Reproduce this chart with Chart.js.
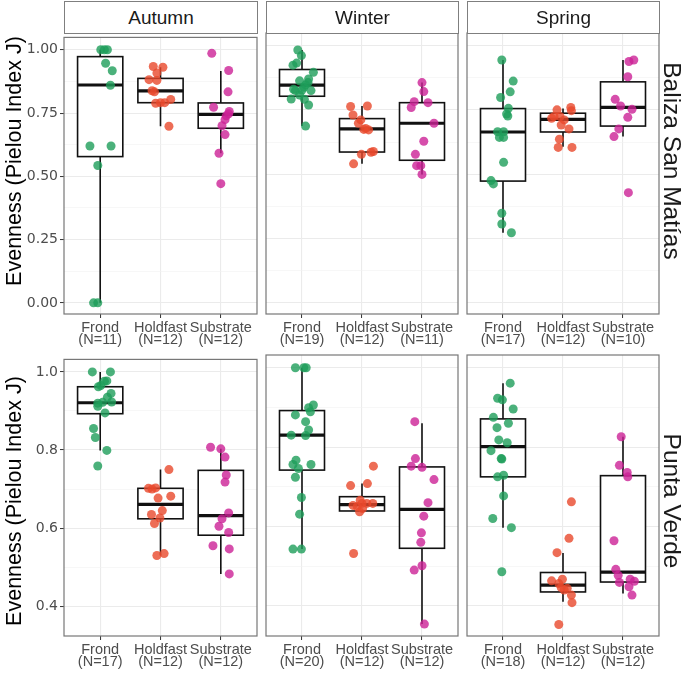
<!DOCTYPE html>
<html>
  <head>
    <meta charset="utf-8" />
    <title>Evenness by season and site</title>
    <script src="https://cdn.jsdelivr.net/npm/chart.js"></script>
    <style>
      body {
        margin: 0;
        background: #fff;
        font-family: "Liberation Sans", Arial, sans-serif;
      }
      #wrap {
        position: relative;
        width: 685px;
        height: 673px;
        overflow: hidden;
      }
      canvas {
        position: absolute;
      }
      .strip {
        position: absolute;
        box-sizing: border-box;
        border: 1px solid #7f7f7f;
        background: #fff;
        color: #1a1a1a;
        font-size: 19px;
        text-align: center;
        line-height: 31px;
      }
      .side {
        position: absolute;
        color: #1a1a1a;
        font-size: 24.5px;
        white-space: nowrap;
        transform: translate(-50%, -50%) rotate(90deg);
      }
      .ytitle {
        position: absolute;
        color: #000;
        font-size: 21.5px;
        white-space: nowrap;
        transform: translate(-50%, -50%) rotate(-90deg);
      }
    </style>
  </head>
  <body>
    <div id="wrap"></div>

    <script>
      const categories = ["Frond", "Holdfast", "Substrate"];
      const seasons = ["Autumn", "Winter", "Spring"];
      const sites = ["Baliza San Matías", "Punta Verde"];

      const topTicks = [0, 0.25, 0.5, 0.75, 1];
      const topMinor = [0.125, 0.375, 0.625, 0.875];
      const bottomTicks = [0.4, 0.6, 0.8, 1.0];
      const bottomMinor = [0.5, 0.7, 0.9];

      // points: [jitter, evenness] per category (Frond, Holdfast, Substrate)
      // boxes: [lower whisker, Q1, median, Q3, upper whisker]
      const bsmAutumnN = [11, 12, 12];
      const bsmAutumn = [
        [[0.01, 1.0], [0.07, 1.0], [0.12, 1.0], [0.09, 0.947], [0.2, 0.917], [0.17, 0.86],
         [-0.17, 0.62], [0.18, 0.62], [-0.04, 0.543], [-0.11, 0.0], [-0.04, 0.0]],
        [[-0.12, 0.934], [0.04, 0.931], [-0.06, 0.908], [-0.19, 0.882], [-0.06, 0.879], [-0.14, 0.838],
         [-0.1, 0.834], [-0.08, 0.789], [0.0, 0.791], [0.07, 0.791], [0.17, 0.804], [0.14, 0.698]],
        [[-0.15, 0.986], [0.13, 0.918], [0.12, 0.834], [-0.12, 0.773], [0.14, 0.756], [0.13, 0.747],
         [0.09, 0.739], [0.07, 0.724], [0.02, 0.7], [0.07, 0.665], [-0.03, 0.591], [0.0, 0.471]],
      ];
      const bsmAutumnBox = [
        [0.0, 0.578, 0.861, 0.973, 1.0],
        [0.698, 0.791, 0.838, 0.887, 0.931],
        [0.591, 0.69, 0.745, 0.79, 0.916],
      ];

      const bsmWinterN = [19, 12, 11];
      const bsmWinter = [
        [[-0.07, 0.983], [-0.01, 0.961], [-0.09, 0.932], [-0.15, 0.924], [0.19, 0.896], [0.11, 0.87],
         [-0.04, 0.863], [0.03, 0.838], [0.06, 0.847], [-0.11, 0.825], [0.0, 0.827], [0.15, 0.825],
         [-0.18, 0.792], [0.04, 0.791], [0.11, 0.769], [0.06, 0.687], [0.1, 0.856], [-0.14, 0.83],
         [-0.04, 0.808]],
        [[-0.19, 0.763], [0.09, 0.765], [-0.15, 0.73], [-0.02, 0.711], [-0.06, 0.698], [0.03, 0.674],
         [0.06, 0.678], [0.11, 0.672], [-0.01, 0.577], [0.15, 0.585], [0.19, 0.588], [-0.14, 0.54]],
        [[0.0, 0.856], [0.03, 0.821], [-0.13, 0.782], [-0.18, 0.759], [0.1, 0.778], [0.2, 0.698],
         [0.03, 0.628], [-0.11, 0.577], [-0.09, 0.533], [-0.02, 0.533], [0.0, 0.499]],
      ];
      const bsmWinterBox = [
        [0.687, 0.803, 0.846, 0.907, 0.983],
        [0.54, 0.586, 0.676, 0.716, 0.765],
        [0.499, 0.554, 0.698, 0.778, 0.856],
      ];

      const bsmSpringN = [17, 12, 10];
      const bsmSpring = [
        [[-0.02, 0.944], [0.17, 0.862], [0.12, 0.82], [-0.04, 0.798], [0.09, 0.756], [0.06, 0.734],
         [0.08, 0.726], [-0.09, 0.665], [0.01, 0.665], [-0.06, 0.643], [0.01, 0.643], [0.01, 0.546],
         [-0.2, 0.475], [-0.16, 0.462], [-0.02, 0.348], [-0.02, 0.306], [0.14, 0.272]],
        [[-0.1, 0.75], [0.13, 0.759], [0.14, 0.747], [-0.19, 0.717], [-0.05, 0.724], [-0.15, 0.724],
         [0.02, 0.711], [-0.03, 0.691], [0.1, 0.676], [-0.06, 0.636], [-0.08, 0.604], [0.15, 0.604]],
        [[0.18, 0.944], [0.1, 0.938], [0.08, 0.879], [-0.13, 0.791], [-0.04, 0.765], [0.15, 0.752],
         [0.08, 0.721], [-0.07, 0.676], [-0.15, 0.646], [0.09, 0.428]],
      ];
      const bsmSpringBox = [
        [0.272, 0.473, 0.664, 0.755, 0.944],
        [0.607, 0.664, 0.713, 0.737, 0.755],
        [0.646, 0.687, 0.76, 0.859, 0.944],
      ];

      const pvAutumnN = [17, 12, 12];
      const pvAutumn = [
        [[-0.13, 1.0], [0.17, 1.0], [0.07, 0.976], [0.11, 0.977], [0.01, 0.965], [-0.03, 0.962],
         [0.18, 0.945], [0.12, 0.935], [-0.04, 0.92], [0.04, 0.922], [0.19, 0.923], [-0.04, 0.912],
         [0.08, 0.895], [-0.11, 0.855], [-0.08, 0.832], [0.11, 0.799], [-0.04, 0.759]],
        [[0.14, 0.75], [-0.2, 0.702], [-0.14, 0.7], [-0.08, 0.703], [-0.04, 0.677], [0.17, 0.682],
         [0.03, 0.645], [-0.15, 0.635], [-0.01, 0.626], [-0.1, 0.612], [-0.06, 0.53], [0.06, 0.535]],
        [[-0.17, 0.807], [0.0, 0.803], [0.07, 0.782], [0.09, 0.736], [0.07, 0.718], [0.13, 0.639],
         [0.02, 0.624], [-0.03, 0.605], [0.13, 0.589], [-0.13, 0.555], [0.14, 0.547], [0.14, 0.483]],
      ];
      const pvAutumnBox = [
        [0.799, 0.893, 0.921, 0.962, 1.0],
        [0.53, 0.624, 0.661, 0.702, 0.75],
        [0.483, 0.582, 0.632, 0.748, 0.803],
      ];

      const pvWinterN = [20, 12, 12];
      const pvWinter = [
        [[-0.11, 1.0], [0.03, 1.0], [0.07, 1.0], [0.19, 0.906], [0.11, 0.899], [0.14, 0.889],
         [-0.11, 0.881], [0.06, 0.864], [0.11, 0.843], [-0.18, 0.83], [0.06, 0.829], [-0.1, 0.767],
         [-0.15, 0.756], [0.15, 0.756], [-0.06, 0.746], [-0.11, 0.724], [-0.01, 0.673], [-0.04, 0.631],
         [-0.15, 0.543], [-0.01, 0.543]],
        [[0.19, 0.752], [0.09, 0.708], [-0.19, 0.703], [-0.03, 0.666], [-0.15, 0.653], [0.0, 0.658],
         [0.08, 0.658], [0.18, 0.658], [-0.08, 0.65], [0.01, 0.645], [-0.04, 0.637], [-0.14, 0.532]],
        [[-0.12, 0.864], [-0.11, 0.771], [-0.18, 0.752], [0.0, 0.749], [0.2, 0.718], [0.1, 0.66],
         [0.03, 0.626], [-0.01, 0.584], [-0.02, 0.56], [0.0, 0.501], [-0.13, 0.49], [0.04, 0.354]],
      ];
      const pvWinterBox = [
        [0.543, 0.742, 0.83, 0.892, 1.0],
        [0.637, 0.639, 0.655, 0.675, 0.708],
        [0.354, 0.545, 0.643, 0.75, 0.86],
      ];

      const pvSpringN = [18, 12, 12];
      const pvSpring = [
        [[0.12, 0.961], [-0.09, 0.923], [-0.01, 0.919], [0.17, 0.896], [-0.16, 0.875], [0.09, 0.86],
         [-0.1, 0.849], [-0.07, 0.818], [0.07, 0.811], [-0.2, 0.791], [-0.03, 0.771], [-0.02, 0.77],
         [-0.09, 0.725], [0.01, 0.729], [0.01, 0.677], [-0.17, 0.62], [0.14, 0.597], [-0.02, 0.486]],
        [[0.14, 0.662], [0.1, 0.57], [-0.1, 0.534], [-0.19, 0.463], [-0.01, 0.467], [-0.07, 0.456],
         [-0.03, 0.446], [0.07, 0.444], [0.02, 0.44], [0.14, 0.427], [0.15, 0.408], [-0.07, 0.353]],
        [[-0.03, 0.826], [-0.06, 0.754], [0.07, 0.736], [0.08, 0.725], [-0.15, 0.564], [-0.12, 0.492],
         [-0.08, 0.477], [0.12, 0.467], [0.19, 0.462], [-0.06, 0.459], [0.1, 0.448], [0.15, 0.427]],
      ];
      const pvSpringBox = [
        [0.597, 0.725, 0.801, 0.871, 0.961],
        [0.41, 0.435, 0.452, 0.484, 0.533],
        [0.431, 0.46, 0.485, 0.728, 0.826],
      ];

      const pointColors = [
        "rgba(30, 158, 90, 0.8)",
        "rgba(232, 72, 44, 0.8)",
        "rgba(204, 34, 150, 0.8)",
      ];

      const colLeft = [64, 266, 467];
      const colWidth = [193, 192, 192];
      const rowTop = [33, 355];
      const plotHeight = 281;
      const labelCentre = [161, 501];

      Chart.defaults.font.family = '"Liberation Sans", Arial, sans-serif';
      const yTickFont = '"DejaVu Sans", sans-serif';

      const near = (list, v) => list.some((t) => Math.abs(t - v) < 1e-6);

      function boxPlugin(stats) {
        return {
          id: "boxes",
          beforeDatasetsDraw(chart) {
            const { ctx } = chart;
            const xs = chart.scales.x;
            const ys = chart.scales.y;
            ctx.save();
            stats.forEach((s, i) => {
              const cx = xs.getPixelForValue(i + 1);
              const hw = xs.getPixelForValue(i + 1.375) - cx;
              const [lo, q1, med, q3, hi] = s.map((v) => ys.getPixelForValue(v));
              ctx.strokeStyle = "#111";
              ctx.lineWidth = 1.6;
              ctx.beginPath();
              ctx.moveTo(cx, lo);
              ctx.lineTo(cx, q1);
              ctx.moveTo(cx, q3);
              ctx.lineTo(cx, hi);
              ctx.stroke();
              ctx.fillStyle = "#fff";
              ctx.fillRect(cx - hw, q3, 2 * hw, q1 - q3);
              ctx.strokeRect(cx - hw, q3, 2 * hw, q1 - q3);
              ctx.lineWidth = 3.2;
              ctx.beginPath();
              ctx.moveTo(cx - hw, med);
              ctx.lineTo(cx + hw, med);
              ctx.stroke();
            });
            ctx.restore();
          },
        };
      }

      const framePlugin = {
        id: "frame",
        afterDraw(chart) {
          const { ctx, chartArea: a } = chart;
          ctx.save();
          ctx.strokeStyle = "#777";
          ctx.lineWidth = 1.2;
          ctx.strokeRect(a.left, a.top, a.right - a.left, a.bottom - a.top);
          ctx.restore();
        },
      };

      function makePanel(row, col, points, boxes, counts) {
        const wrap = document.getElementById("wrap");
        const leftSpace = col === 0 ? 44 : 6;
        const canvas = document.createElement("canvas");
        const w = colWidth[col] + leftSpace + 6;
        const h = plotHeight + 6 + 40;
        canvas.width = w;
        canvas.height = h;
        canvas.style.left = colLeft[col] - leftSpace + "px";
        canvas.style.top = rowTop[row] - 6 + "px";
        canvas.style.width = w + "px";
        canvas.style.height = h + "px";
        wrap.appendChild(canvas);

        const majors = row === 0 ? topTicks : bottomTicks;
        const minors = row === 0 ? topMinor : bottomMinor;
        const yMin = row === 0 ? -0.044 : 0.324;
        const yMax = row === 0 ? 1.049 : 1.032;

        new Chart(canvas.getContext("2d"), {
          type: "scatter",
          data: {
            datasets: points.map((pts, i) => ({
              label: categories[i],
              data: pts.map(([j, v]) => ({ x: i + 1 + j, y: v })),
              backgroundColor: pointColors[i],
              borderWidth: 0,
              pointRadius: 4.5,
            })),
          },
          options: {
            responsive: false,
            animation: false,
            events: [],
            layout: {
              padding: { left: col === 0 ? 0 : 6, right: 6, top: 6, bottom: 0 },
            },
            plugins: {
              legend: { display: false },
              tooltip: { enabled: false },
            },
            scales: {
              x: {
                type: "linear",
                min: 0.4,
                max: 3.6,
                afterBuildTicks: (s) => {
                  s.ticks = [1, 2, 3].map((v) => ({ value: v }));
                },
                afterFit: (s) => {
                  s.height = 40;
                },
                ticks: {
                  autoSkip: false,
                  maxRotation: 0,
                  padding: 4,
                  color: "#4d4d4d",
                  font: { size: 14.5, lineHeight: 0.85 },
                  callback: (v) => [
                    categories[Math.round(v) - 1],
                    "(N=" + counts[Math.round(v) - 1] + ")",
                  ],
                },
                grid: {
                  color: "#ebebeb",
                  lineWidth: 1.1,
                  tickLength: 4,
                  tickColor: "#333",
                  tickWidth: 1,
                },
                border: { display: false },
              },
              y: {
                type: "linear",
                min: yMin,
                max: yMax,
                afterBuildTicks: (s) => {
                  s.ticks = majors.concat(minors).map((v) => ({ value: v }));
                },
                afterFit: (s) => {
                  s.width = col === 0 ? 44 : 0;
                },
                ticks: {
                  display: col === 0,
                  padding: 2,
                  color: "#4d4d4d",
                  font: { family: yTickFont, size: 14 },
                  callback: (v) =>
                    near(majors, v) ? v.toFixed(row === 0 ? 2 : 1) : "",
                },
                grid: {
                  color: (c) => (near(majors, c.tick.value) ? "#ebebeb" : "#f2f2f2"),
                  lineWidth: (c) => (near(majors, c.tick.value) ? 1.1 : 0.6),
                  drawTicks: col === 0,
                  tickLength: 4,
                  tickColor: (c) => (near(majors, c.tick.value) ? "#333" : "rgba(0,0,0,0)"),
                  tickWidth: 1,
                },
                border: { display: false },
              },
            },
          },
          plugins: [boxPlugin(boxes), framePlugin],
        });
      }

      function addText(cls, text, left, top, width, height) {
        const d = document.createElement("div");
        d.className = cls;
        d.textContent = text;
        d.style.left = left + "px";
        d.style.top = top + "px";
        if (width) d.style.width = width + "px";
        if (height) d.style.height = height + "px";
        document.getElementById("wrap").appendChild(d);
      }

      window.onload = () => {
        makePanel(0, 0, bsmAutumn, bsmAutumnBox, bsmAutumnN);
        makePanel(0, 1, bsmWinter, bsmWinterBox, bsmWinterN);
        makePanel(0, 2, bsmSpring, bsmSpringBox, bsmSpringN);
        makePanel(1, 0, pvAutumn, pvAutumnBox, pvAutumnN);
        makePanel(1, 1, pvWinter, pvWinterBox, pvWinterN);
        makePanel(1, 2, pvSpring, pvSpringBox, pvSpringN);

        seasons.forEach((s, c) => addText("strip", s, colLeft[c], 1, colWidth[c] + 1, 33));
        sites.forEach((s, r) => addText("side", s, 672, labelCentre[r]));
        labelCentre.forEach((y) => addText("ytitle", "Evenness (Pielou Index J)", 14, y));
      };
    </script>
  </body>
</html>
